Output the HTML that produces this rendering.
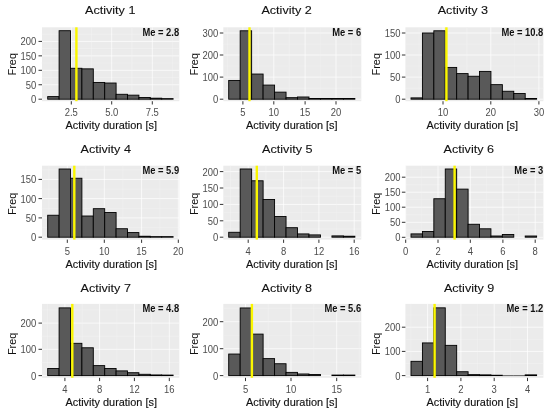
<!DOCTYPE html><html><head><meta charset="utf-8"><title>Activity histograms</title><style>html,body{margin:0;padding:0;background:#fff}body{width:550px;height:417px;overflow:hidden}</style></head><body><svg width="550" height="417" viewBox="0 0 550 417" style="display:block;filter:blur(0.45px);font-family:'Liberation Sans',sans-serif">
<rect width="550" height="417" fill="#fff"/>
<g><rect x="42.00" y="27.30" width="137.30" height="73.90" fill="#ebebeb"/><line x1="41.30" x2="179.30" y1="91.98" y2="91.98" stroke="#f6f6f6" stroke-width="0.4"/><line x1="41.30" x2="179.30" y1="77.53" y2="77.53" stroke="#f6f6f6" stroke-width="0.4"/><line x1="41.30" x2="179.30" y1="63.07" y2="63.07" stroke="#f6f6f6" stroke-width="0.4"/><line x1="41.30" x2="179.30" y1="48.62" y2="48.62" stroke="#f6f6f6" stroke-width="0.4"/><line x1="41.30" x2="179.30" y1="34.17" y2="34.17" stroke="#f6f6f6" stroke-width="0.4"/><line x1="41.30" x2="179.30" y1="99.20" y2="99.20" stroke="#fff" stroke-width="0.7"/><line x1="41.30" x2="179.30" y1="84.75" y2="84.75" stroke="#fff" stroke-width="0.7"/><line x1="41.30" x2="179.30" y1="70.30" y2="70.30" stroke="#fff" stroke-width="0.7"/><line x1="41.30" x2="179.30" y1="55.85" y2="55.85" stroke="#fff" stroke-width="0.7"/><line x1="41.30" x2="179.30" y1="41.40" y2="41.40" stroke="#fff" stroke-width="0.7"/><line y1="27.30" y2="101.20" x1="51.10" x2="51.10" stroke="#f6f6f6" stroke-width="0.4"/><line y1="27.30" y2="101.20" x1="91.50" x2="91.50" stroke="#f6f6f6" stroke-width="0.4"/><line y1="27.30" y2="101.20" x1="131.90" x2="131.90" stroke="#f6f6f6" stroke-width="0.4"/><line y1="27.30" y2="101.20" x1="172.30" x2="172.30" stroke="#f6f6f6" stroke-width="0.4"/><line y1="27.30" y2="101.20" x1="71.30" x2="71.30" stroke="#fff" stroke-width="0.7"/><line y1="27.30" y2="101.20" x1="111.70" x2="111.70" stroke="#fff" stroke-width="0.7"/><line y1="27.30" y2="101.20" x1="152.30" x2="152.30" stroke="#fff" stroke-width="0.7"/><rect x="47.70" y="96.60" width="11.40" height="2.60" fill="#595959" stroke="#000" stroke-width="0.9"/><rect x="59.10" y="30.71" width="11.40" height="68.49" fill="#595959" stroke="#000" stroke-width="0.9"/><rect x="70.50" y="68.28" width="11.40" height="30.92" fill="#595959" stroke="#000" stroke-width="0.9"/><rect x="81.90" y="68.86" width="11.40" height="30.35" fill="#595959" stroke="#000" stroke-width="0.9"/><rect x="93.30" y="82.44" width="11.40" height="16.76" fill="#595959" stroke="#000" stroke-width="0.9"/><rect x="104.70" y="83.02" width="11.40" height="16.18" fill="#595959" stroke="#000" stroke-width="0.9"/><rect x="116.10" y="94.29" width="11.40" height="4.91" fill="#595959" stroke="#000" stroke-width="0.9"/><rect x="127.50" y="95.15" width="11.40" height="4.05" fill="#595959" stroke="#000" stroke-width="0.9"/><rect x="138.90" y="97.47" width="11.40" height="1.73" fill="#595959" stroke="#000" stroke-width="0.9"/><rect x="150.30" y="98.19" width="11.40" height="1.01" fill="#595959" stroke="#000" stroke-width="0.9"/><rect x="161.70" y="98.62" width="11.40" height="0.58" fill="#595959" stroke="#000" stroke-width="0.9"/><rect x="75.20" y="27.30" width="2.4" height="73.90" fill="#fbf700"/><text transform="translate(179.10,35.70) scale(0.9,1)" text-anchor="end" font-size="10.4" font-weight="bold" fill="#111">Me = 2.8</text><line x1="38.50" x2="42.00" y1="99.20" y2="99.20" stroke="#333" stroke-width="1"/><text transform="translate(36.30,103.10) scale(0.9,1)" text-anchor="end" font-size="10.5" fill="#4d4d4d">0</text><line x1="38.50" x2="42.00" y1="84.75" y2="84.75" stroke="#333" stroke-width="1"/><text transform="translate(36.30,88.65) scale(0.9,1)" text-anchor="end" font-size="10.5" fill="#4d4d4d">50</text><line x1="38.50" x2="42.00" y1="70.30" y2="70.30" stroke="#333" stroke-width="1"/><text transform="translate(36.30,74.20) scale(0.9,1)" text-anchor="end" font-size="10.5" fill="#4d4d4d">100</text><line x1="38.50" x2="42.00" y1="55.85" y2="55.85" stroke="#333" stroke-width="1"/><text transform="translate(36.30,59.75) scale(0.9,1)" text-anchor="end" font-size="10.5" fill="#4d4d4d">150</text><line x1="38.50" x2="42.00" y1="41.40" y2="41.40" stroke="#333" stroke-width="1"/><text transform="translate(36.30,45.30) scale(0.9,1)" text-anchor="end" font-size="10.5" fill="#4d4d4d">200</text><line y1="101.20" y2="104.50" x1="71.30" x2="71.30" stroke="#333" stroke-width="1"/><text transform="translate(71.30,116.20) scale(0.9,1)" text-anchor="middle" font-size="10.5" fill="#4d4d4d">2.5</text><line y1="101.20" y2="104.50" x1="111.70" x2="111.70" stroke="#333" stroke-width="1"/><text transform="translate(111.70,116.20) scale(0.9,1)" text-anchor="middle" font-size="10.5" fill="#4d4d4d">5.0</text><line y1="101.20" y2="104.50" x1="152.30" x2="152.30" stroke="#333" stroke-width="1"/><text transform="translate(152.30,116.20) scale(0.9,1)" text-anchor="middle" font-size="10.5" fill="#4d4d4d">7.5</text><text x="111.20" y="129.10" text-anchor="middle" font-size="11.5" fill="#111" stroke="#111" stroke-width="0.15" textLength="91.6" lengthAdjust="spacingAndGlyphs">Activity duration [s]</text><text transform="translate(15.80,64.25) rotate(-90)" text-anchor="middle" font-size="10.9" fill="#111">Freq</text><text x="110.20" y="13.80" text-anchor="middle" font-size="11.6" fill="#111" stroke="#111" stroke-width="0.1" textLength="50.4" lengthAdjust="spacingAndGlyphs">Activity 1</text></g>
<g><rect x="223.30" y="27.30" width="138.00" height="73.90" fill="#ebebeb"/><line x1="223.30" x2="361.30" y1="88.17" y2="88.17" stroke="#f6f6f6" stroke-width="0.4"/><line x1="223.30" x2="361.30" y1="66.10" y2="66.10" stroke="#f6f6f6" stroke-width="0.4"/><line x1="223.30" x2="361.30" y1="44.03" y2="44.03" stroke="#f6f6f6" stroke-width="0.4"/><line x1="223.30" x2="361.30" y1="99.20" y2="99.20" stroke="#fff" stroke-width="0.7"/><line x1="223.30" x2="361.30" y1="77.10" y2="77.10" stroke="#fff" stroke-width="0.7"/><line x1="223.30" x2="361.30" y1="55.00" y2="55.00" stroke="#fff" stroke-width="0.7"/><line x1="223.30" x2="361.30" y1="33.00" y2="33.00" stroke="#fff" stroke-width="0.7"/><line y1="27.30" y2="101.20" x1="227.45" x2="227.45" stroke="#f6f6f6" stroke-width="0.4"/><line y1="27.30" y2="101.20" x1="258.35" x2="258.35" stroke="#f6f6f6" stroke-width="0.4"/><line y1="27.30" y2="101.20" x1="289.25" x2="289.25" stroke="#f6f6f6" stroke-width="0.4"/><line y1="27.30" y2="101.20" x1="320.15" x2="320.15" stroke="#f6f6f6" stroke-width="0.4"/><line y1="27.30" y2="101.20" x1="351.05" x2="351.05" stroke="#f6f6f6" stroke-width="0.4"/><line y1="27.30" y2="101.20" x1="242.90" x2="242.90" stroke="#fff" stroke-width="0.7"/><line y1="27.30" y2="101.20" x1="273.80" x2="273.80" stroke="#fff" stroke-width="0.7"/><line y1="27.30" y2="101.20" x1="305.10" x2="305.10" stroke="#fff" stroke-width="0.7"/><line y1="27.30" y2="101.20" x1="336.00" x2="336.00" stroke="#fff" stroke-width="0.7"/><rect x="228.70" y="80.44" width="11.47" height="18.76" fill="#595959" stroke="#000" stroke-width="0.9"/><rect x="240.17" y="30.79" width="11.47" height="68.41" fill="#595959" stroke="#000" stroke-width="0.9"/><rect x="251.64" y="74.04" width="11.47" height="25.16" fill="#595959" stroke="#000" stroke-width="0.9"/><rect x="263.11" y="85.08" width="11.47" height="14.12" fill="#595959" stroke="#000" stroke-width="0.9"/><rect x="274.58" y="92.14" width="11.47" height="7.06" fill="#595959" stroke="#000" stroke-width="0.9"/><rect x="286.05" y="97.66" width="11.47" height="1.54" fill="#595959" stroke="#000" stroke-width="0.9"/><rect x="297.52" y="96.99" width="11.47" height="2.21" fill="#595959" stroke="#000" stroke-width="0.9"/><rect x="308.99" y="98.54" width="11.47" height="0.66" fill="#595959" stroke="#000" stroke-width="0.9"/><rect x="320.46" y="98.54" width="11.47" height="0.66" fill="#595959" stroke="#000" stroke-width="0.9"/><rect x="331.93" y="98.54" width="11.47" height="0.66" fill="#595959" stroke="#000" stroke-width="0.9"/><rect x="343.40" y="98.54" width="11.47" height="0.66" fill="#595959" stroke="#000" stroke-width="0.9"/><rect x="248.30" y="27.30" width="2.4" height="73.90" fill="#fbf700"/><text transform="translate(361.10,35.70) scale(0.9,1)" text-anchor="end" font-size="10.4" font-weight="bold" fill="#111">Me = 6</text><line x1="219.80" x2="223.30" y1="99.20" y2="99.20" stroke="#333" stroke-width="1"/><text transform="translate(218.30,103.10) scale(0.9,1)" text-anchor="end" font-size="10.5" fill="#4d4d4d">0</text><line x1="219.80" x2="223.30" y1="77.10" y2="77.10" stroke="#333" stroke-width="1"/><text transform="translate(218.30,81.00) scale(0.9,1)" text-anchor="end" font-size="10.5" fill="#4d4d4d">100</text><line x1="219.80" x2="223.30" y1="55.00" y2="55.00" stroke="#333" stroke-width="1"/><text transform="translate(218.30,58.90) scale(0.9,1)" text-anchor="end" font-size="10.5" fill="#4d4d4d">200</text><line x1="219.80" x2="223.30" y1="33.00" y2="33.00" stroke="#333" stroke-width="1"/><text transform="translate(218.30,36.90) scale(0.9,1)" text-anchor="end" font-size="10.5" fill="#4d4d4d">300</text><line y1="101.20" y2="104.50" x1="242.90" x2="242.90" stroke="#333" stroke-width="1"/><text transform="translate(242.90,116.20) scale(0.9,1)" text-anchor="middle" font-size="10.5" fill="#4d4d4d">5</text><line y1="101.20" y2="104.50" x1="273.80" x2="273.80" stroke="#333" stroke-width="1"/><text transform="translate(273.80,116.20) scale(0.9,1)" text-anchor="middle" font-size="10.5" fill="#4d4d4d">10</text><line y1="101.20" y2="104.50" x1="305.10" x2="305.10" stroke="#333" stroke-width="1"/><text transform="translate(305.10,116.20) scale(0.9,1)" text-anchor="middle" font-size="10.5" fill="#4d4d4d">15</text><line y1="101.20" y2="104.50" x1="336.00" x2="336.00" stroke="#333" stroke-width="1"/><text transform="translate(336.00,116.20) scale(0.9,1)" text-anchor="middle" font-size="10.5" fill="#4d4d4d">20</text><text x="291.80" y="129.10" text-anchor="middle" font-size="11.5" fill="#111" stroke="#111" stroke-width="0.15" textLength="91.6" lengthAdjust="spacingAndGlyphs">Activity duration [s]</text><text transform="translate(197.80,64.25) rotate(-90)" text-anchor="middle" font-size="10.9" fill="#111">Freq</text><text x="286.60" y="13.60" text-anchor="middle" font-size="11.6" fill="#111" stroke="#111" stroke-width="0.1" textLength="50.4" lengthAdjust="spacingAndGlyphs">Activity 2</text></g>
<g><rect x="405.40" y="27.30" width="138.00" height="73.90" fill="#ebebeb"/><line x1="405.40" x2="543.40" y1="88.17" y2="88.17" stroke="#f6f6f6" stroke-width="0.4"/><line x1="405.40" x2="543.40" y1="66.10" y2="66.10" stroke="#f6f6f6" stroke-width="0.4"/><line x1="405.40" x2="543.40" y1="44.03" y2="44.03" stroke="#f6f6f6" stroke-width="0.4"/><line x1="405.40" x2="543.40" y1="99.20" y2="99.20" stroke="#fff" stroke-width="0.7"/><line x1="405.40" x2="543.40" y1="77.10" y2="77.10" stroke="#fff" stroke-width="0.7"/><line x1="405.40" x2="543.40" y1="55.00" y2="55.00" stroke="#fff" stroke-width="0.7"/><line x1="405.40" x2="543.40" y1="33.00" y2="33.00" stroke="#fff" stroke-width="0.7"/><line y1="27.30" y2="101.20" x1="419.10" x2="419.10" stroke="#f6f6f6" stroke-width="0.4"/><line y1="27.30" y2="101.20" x1="466.90" x2="466.90" stroke="#f6f6f6" stroke-width="0.4"/><line y1="27.30" y2="101.20" x1="514.70" x2="514.70" stroke="#f6f6f6" stroke-width="0.4"/><line y1="27.30" y2="101.20" x1="443.00" x2="443.00" stroke="#fff" stroke-width="0.7"/><line y1="27.30" y2="101.20" x1="490.80" x2="490.80" stroke="#fff" stroke-width="0.7"/><line y1="27.30" y2="101.20" x1="538.90" x2="538.90" stroke="#fff" stroke-width="0.7"/><rect x="411.00" y="97.88" width="11.42" height="1.32" fill="#595959" stroke="#000" stroke-width="0.9"/><rect x="422.42" y="33.00" width="11.42" height="66.20" fill="#595959" stroke="#000" stroke-width="0.9"/><rect x="433.84" y="30.79" width="11.42" height="68.41" fill="#595959" stroke="#000" stroke-width="0.9"/><rect x="445.26" y="67.42" width="11.42" height="31.78" fill="#595959" stroke="#000" stroke-width="0.9"/><rect x="456.68" y="73.60" width="11.42" height="25.60" fill="#595959" stroke="#000" stroke-width="0.9"/><rect x="468.10" y="76.25" width="11.42" height="22.95" fill="#595959" stroke="#000" stroke-width="0.9"/><rect x="479.52" y="71.40" width="11.42" height="27.80" fill="#595959" stroke="#000" stroke-width="0.9"/><rect x="490.94" y="84.64" width="11.42" height="14.56" fill="#595959" stroke="#000" stroke-width="0.9"/><rect x="502.36" y="91.26" width="11.42" height="7.94" fill="#595959" stroke="#000" stroke-width="0.9"/><rect x="513.78" y="93.46" width="11.42" height="5.74" fill="#595959" stroke="#000" stroke-width="0.9"/><rect x="525.20" y="98.54" width="11.42" height="0.66" fill="#595959" stroke="#000" stroke-width="0.9"/><rect x="445.20" y="27.30" width="2.4" height="73.90" fill="#fbf700"/><text transform="translate(543.20,35.70) scale(0.9,1)" text-anchor="end" font-size="10.4" font-weight="bold" fill="#111">Me = 10.8</text><line x1="401.90" x2="405.40" y1="99.20" y2="99.20" stroke="#333" stroke-width="1"/><text transform="translate(400.40,103.10) scale(0.9,1)" text-anchor="end" font-size="10.5" fill="#4d4d4d">0</text><line x1="401.90" x2="405.40" y1="77.10" y2="77.10" stroke="#333" stroke-width="1"/><text transform="translate(400.40,81.00) scale(0.9,1)" text-anchor="end" font-size="10.5" fill="#4d4d4d">50</text><line x1="401.90" x2="405.40" y1="55.00" y2="55.00" stroke="#333" stroke-width="1"/><text transform="translate(400.40,58.90) scale(0.9,1)" text-anchor="end" font-size="10.5" fill="#4d4d4d">100</text><line x1="401.90" x2="405.40" y1="33.00" y2="33.00" stroke="#333" stroke-width="1"/><text transform="translate(400.40,36.90) scale(0.9,1)" text-anchor="end" font-size="10.5" fill="#4d4d4d">150</text><line y1="101.20" y2="104.50" x1="443.00" x2="443.00" stroke="#333" stroke-width="1"/><text transform="translate(443.00,116.20) scale(0.9,1)" text-anchor="middle" font-size="10.5" fill="#4d4d4d">10</text><line y1="101.20" y2="104.50" x1="490.80" x2="490.80" stroke="#333" stroke-width="1"/><text transform="translate(490.80,116.20) scale(0.9,1)" text-anchor="middle" font-size="10.5" fill="#4d4d4d">20</text><line y1="101.20" y2="104.50" x1="538.90" x2="538.90" stroke="#333" stroke-width="1"/><text transform="translate(538.90,116.20) scale(0.9,1)" text-anchor="middle" font-size="10.5" fill="#4d4d4d">30</text><text x="472.30" y="129.10" text-anchor="middle" font-size="11.5" fill="#111" stroke="#111" stroke-width="0.15" textLength="91.6" lengthAdjust="spacingAndGlyphs">Activity duration [s]</text><text transform="translate(379.90,64.25) rotate(-90)" text-anchor="middle" font-size="10.9" fill="#111">Freq</text><text x="462.90" y="13.60" text-anchor="middle" font-size="11.6" fill="#111" stroke="#111" stroke-width="0.1" textLength="50.4" lengthAdjust="spacingAndGlyphs">Activity 3</text></g>
<g><rect x="42.00" y="165.70" width="137.30" height="73.90" fill="#ebebeb"/><line x1="41.30" x2="179.30" y1="227.57" y2="227.57" stroke="#f6f6f6" stroke-width="0.4"/><line x1="41.30" x2="179.30" y1="208.30" y2="208.30" stroke="#f6f6f6" stroke-width="0.4"/><line x1="41.30" x2="179.30" y1="189.03" y2="189.03" stroke="#f6f6f6" stroke-width="0.4"/><line x1="41.30" x2="179.30" y1="169.77" y2="169.77" stroke="#f6f6f6" stroke-width="0.4"/><line x1="41.30" x2="179.30" y1="237.20" y2="237.20" stroke="#fff" stroke-width="0.7"/><line x1="41.30" x2="179.30" y1="217.90" y2="217.90" stroke="#fff" stroke-width="0.7"/><line x1="41.30" x2="179.30" y1="198.60" y2="198.60" stroke="#fff" stroke-width="0.7"/><line x1="41.30" x2="179.30" y1="179.40" y2="179.40" stroke="#fff" stroke-width="0.7"/><line y1="165.70" y2="239.60" x1="48.80" x2="48.80" stroke="#f6f6f6" stroke-width="0.4"/><line y1="165.70" y2="239.60" x1="85.80" x2="85.80" stroke="#f6f6f6" stroke-width="0.4"/><line y1="165.70" y2="239.60" x1="122.80" x2="122.80" stroke="#f6f6f6" stroke-width="0.4"/><line y1="165.70" y2="239.60" x1="159.80" x2="159.80" stroke="#f6f6f6" stroke-width="0.4"/><line y1="165.70" y2="239.60" x1="67.30" x2="67.30" stroke="#fff" stroke-width="0.7"/><line y1="165.70" y2="239.60" x1="104.30" x2="104.30" stroke="#fff" stroke-width="0.7"/><line y1="165.70" y2="239.60" x1="141.60" x2="141.60" stroke="#fff" stroke-width="0.7"/><line y1="165.70" y2="239.60" x1="178.30" x2="178.30" stroke="#fff" stroke-width="0.7"/><rect x="47.70" y="215.24" width="11.40" height="21.96" fill="#595959" stroke="#000" stroke-width="0.9"/><rect x="59.10" y="169.00" width="11.40" height="68.20" fill="#595959" stroke="#000" stroke-width="0.9"/><rect x="70.50" y="178.24" width="11.40" height="58.96" fill="#595959" stroke="#000" stroke-width="0.9"/><rect x="81.90" y="216.01" width="11.40" height="21.19" fill="#595959" stroke="#000" stroke-width="0.9"/><rect x="93.30" y="208.69" width="11.40" height="28.51" fill="#595959" stroke="#000" stroke-width="0.9"/><rect x="104.70" y="212.54" width="11.40" height="24.66" fill="#595959" stroke="#000" stroke-width="0.9"/><rect x="116.10" y="228.72" width="11.40" height="8.48" fill="#595959" stroke="#000" stroke-width="0.9"/><rect x="127.50" y="232.58" width="11.40" height="4.62" fill="#595959" stroke="#000" stroke-width="0.9"/><rect x="138.90" y="236.24" width="11.40" height="0.96" fill="#595959" stroke="#000" stroke-width="0.9"/><rect x="150.30" y="236.62" width="11.40" height="0.58" fill="#595959" stroke="#000" stroke-width="0.9"/><rect x="161.70" y="236.62" width="11.40" height="0.58" fill="#595959" stroke="#000" stroke-width="0.9"/><rect x="73.10" y="165.70" width="2.4" height="73.90" fill="#fbf700"/><text transform="translate(179.10,174.10) scale(0.9,1)" text-anchor="end" font-size="10.4" font-weight="bold" fill="#111">Me = 5.9</text><line x1="38.50" x2="42.00" y1="237.20" y2="237.20" stroke="#333" stroke-width="1"/><text transform="translate(36.30,241.10) scale(0.9,1)" text-anchor="end" font-size="10.5" fill="#4d4d4d">0</text><line x1="38.50" x2="42.00" y1="217.90" y2="217.90" stroke="#333" stroke-width="1"/><text transform="translate(36.30,221.80) scale(0.9,1)" text-anchor="end" font-size="10.5" fill="#4d4d4d">50</text><line x1="38.50" x2="42.00" y1="198.60" y2="198.60" stroke="#333" stroke-width="1"/><text transform="translate(36.30,202.50) scale(0.9,1)" text-anchor="end" font-size="10.5" fill="#4d4d4d">100</text><line x1="38.50" x2="42.00" y1="179.40" y2="179.40" stroke="#333" stroke-width="1"/><text transform="translate(36.30,183.30) scale(0.9,1)" text-anchor="end" font-size="10.5" fill="#4d4d4d">150</text><line y1="239.60" y2="242.90" x1="67.30" x2="67.30" stroke="#333" stroke-width="1"/><text transform="translate(67.30,254.60) scale(0.9,1)" text-anchor="middle" font-size="10.5" fill="#4d4d4d">5</text><line y1="239.60" y2="242.90" x1="104.30" x2="104.30" stroke="#333" stroke-width="1"/><text transform="translate(104.30,254.60) scale(0.9,1)" text-anchor="middle" font-size="10.5" fill="#4d4d4d">10</text><line y1="239.60" y2="242.90" x1="141.60" x2="141.60" stroke="#333" stroke-width="1"/><text transform="translate(141.60,254.60) scale(0.9,1)" text-anchor="middle" font-size="10.5" fill="#4d4d4d">15</text><line y1="239.60" y2="242.90" x1="178.30" x2="178.30" stroke="#333" stroke-width="1"/><text transform="translate(178.30,254.60) scale(0.9,1)" text-anchor="middle" font-size="10.5" fill="#4d4d4d">20</text><text x="111.20" y="267.50" text-anchor="middle" font-size="11.5" fill="#111" stroke="#111" stroke-width="0.15" textLength="91.6" lengthAdjust="spacingAndGlyphs">Activity duration [s]</text><text transform="translate(15.80,203.85) rotate(-90)" text-anchor="middle" font-size="10.9" fill="#111">Freq</text><text x="105.70" y="153.20" text-anchor="middle" font-size="11.6" fill="#111" stroke="#111" stroke-width="0.1" textLength="50.4" lengthAdjust="spacingAndGlyphs">Activity 4</text></g>
<g><rect x="223.30" y="165.70" width="138.00" height="73.90" fill="#ebebeb"/><line x1="223.30" x2="361.30" y1="229.00" y2="229.00" stroke="#f6f6f6" stroke-width="0.4"/><line x1="223.30" x2="361.30" y1="212.60" y2="212.60" stroke="#f6f6f6" stroke-width="0.4"/><line x1="223.30" x2="361.30" y1="196.20" y2="196.20" stroke="#f6f6f6" stroke-width="0.4"/><line x1="223.30" x2="361.30" y1="179.80" y2="179.80" stroke="#f6f6f6" stroke-width="0.4"/><line x1="223.30" x2="361.30" y1="237.20" y2="237.20" stroke="#fff" stroke-width="0.7"/><line x1="223.30" x2="361.30" y1="220.80" y2="220.80" stroke="#fff" stroke-width="0.7"/><line x1="223.30" x2="361.30" y1="204.40" y2="204.40" stroke="#fff" stroke-width="0.7"/><line x1="223.30" x2="361.30" y1="188.00" y2="188.00" stroke="#fff" stroke-width="0.7"/><line x1="223.30" x2="361.30" y1="171.60" y2="171.60" stroke="#fff" stroke-width="0.7"/><line y1="165.70" y2="239.60" x1="230.50" x2="230.50" stroke="#f6f6f6" stroke-width="0.4"/><line y1="165.70" y2="239.60" x1="265.90" x2="265.90" stroke="#f6f6f6" stroke-width="0.4"/><line y1="165.70" y2="239.60" x1="301.30" x2="301.30" stroke="#f6f6f6" stroke-width="0.4"/><line y1="165.70" y2="239.60" x1="336.70" x2="336.70" stroke="#f6f6f6" stroke-width="0.4"/><line y1="165.70" y2="239.60" x1="248.20" x2="248.20" stroke="#fff" stroke-width="0.7"/><line y1="165.70" y2="239.60" x1="283.60" x2="283.60" stroke="#fff" stroke-width="0.7"/><line y1="165.70" y2="239.60" x1="318.90" x2="318.90" stroke="#fff" stroke-width="0.7"/><line y1="165.70" y2="239.60" x1="354.20" x2="354.20" stroke="#fff" stroke-width="0.7"/><rect x="228.70" y="232.28" width="11.47" height="4.92" fill="#595959" stroke="#000" stroke-width="0.9"/><rect x="240.17" y="168.98" width="11.47" height="68.22" fill="#595959" stroke="#000" stroke-width="0.9"/><rect x="251.64" y="180.78" width="11.47" height="56.42" fill="#595959" stroke="#000" stroke-width="0.9"/><rect x="263.11" y="199.48" width="11.47" height="37.72" fill="#595959" stroke="#000" stroke-width="0.9"/><rect x="274.58" y="216.54" width="11.47" height="20.66" fill="#595959" stroke="#000" stroke-width="0.9"/><rect x="286.05" y="227.69" width="11.47" height="9.51" fill="#595959" stroke="#000" stroke-width="0.9"/><rect x="297.52" y="233.92" width="11.47" height="3.28" fill="#595959" stroke="#000" stroke-width="0.9"/><rect x="308.99" y="234.90" width="11.47" height="2.30" fill="#595959" stroke="#000" stroke-width="0.9"/><rect x="331.93" y="235.89" width="11.47" height="1.31" fill="#595959" stroke="#000" stroke-width="0.9"/><rect x="343.40" y="236.22" width="11.47" height="0.98" fill="#595959" stroke="#000" stroke-width="0.9"/><rect x="255.60" y="165.70" width="2.4" height="73.90" fill="#fbf700"/><text transform="translate(361.10,174.10) scale(0.9,1)" text-anchor="end" font-size="10.4" font-weight="bold" fill="#111">Me = 5</text><line x1="219.80" x2="223.30" y1="237.20" y2="237.20" stroke="#333" stroke-width="1"/><text transform="translate(218.30,241.10) scale(0.9,1)" text-anchor="end" font-size="10.5" fill="#4d4d4d">0</text><line x1="219.80" x2="223.30" y1="220.80" y2="220.80" stroke="#333" stroke-width="1"/><text transform="translate(218.30,224.70) scale(0.9,1)" text-anchor="end" font-size="10.5" fill="#4d4d4d">50</text><line x1="219.80" x2="223.30" y1="204.40" y2="204.40" stroke="#333" stroke-width="1"/><text transform="translate(218.30,208.30) scale(0.9,1)" text-anchor="end" font-size="10.5" fill="#4d4d4d">100</text><line x1="219.80" x2="223.30" y1="188.00" y2="188.00" stroke="#333" stroke-width="1"/><text transform="translate(218.30,191.90) scale(0.9,1)" text-anchor="end" font-size="10.5" fill="#4d4d4d">150</text><line x1="219.80" x2="223.30" y1="171.60" y2="171.60" stroke="#333" stroke-width="1"/><text transform="translate(218.30,175.50) scale(0.9,1)" text-anchor="end" font-size="10.5" fill="#4d4d4d">200</text><line y1="239.60" y2="242.90" x1="248.20" x2="248.20" stroke="#333" stroke-width="1"/><text transform="translate(248.20,254.60) scale(0.9,1)" text-anchor="middle" font-size="10.5" fill="#4d4d4d">4</text><line y1="239.60" y2="242.90" x1="283.60" x2="283.60" stroke="#333" stroke-width="1"/><text transform="translate(283.60,254.60) scale(0.9,1)" text-anchor="middle" font-size="10.5" fill="#4d4d4d">8</text><line y1="239.60" y2="242.90" x1="318.90" x2="318.90" stroke="#333" stroke-width="1"/><text transform="translate(318.90,254.60) scale(0.9,1)" text-anchor="middle" font-size="10.5" fill="#4d4d4d">12</text><line y1="239.60" y2="242.90" x1="354.20" x2="354.20" stroke="#333" stroke-width="1"/><text transform="translate(354.20,254.60) scale(0.9,1)" text-anchor="middle" font-size="10.5" fill="#4d4d4d">16</text><text x="291.80" y="267.50" text-anchor="middle" font-size="11.5" fill="#111" stroke="#111" stroke-width="0.15" textLength="91.6" lengthAdjust="spacingAndGlyphs">Activity duration [s]</text><text transform="translate(197.80,203.85) rotate(-90)" text-anchor="middle" font-size="10.9" fill="#111">Freq</text><text x="287.30" y="153.20" text-anchor="middle" font-size="11.6" fill="#111" stroke="#111" stroke-width="0.1" textLength="50.4" lengthAdjust="spacingAndGlyphs">Activity 5</text></g>
<g><rect x="405.40" y="165.70" width="138.00" height="73.90" fill="#ebebeb"/><line x1="405.40" x2="543.40" y1="229.79" y2="229.79" stroke="#f6f6f6" stroke-width="0.4"/><line x1="405.40" x2="543.40" y1="214.76" y2="214.76" stroke="#f6f6f6" stroke-width="0.4"/><line x1="405.40" x2="543.40" y1="199.74" y2="199.74" stroke="#f6f6f6" stroke-width="0.4"/><line x1="405.40" x2="543.40" y1="184.71" y2="184.71" stroke="#f6f6f6" stroke-width="0.4"/><line x1="405.40" x2="543.40" y1="169.69" y2="169.69" stroke="#f6f6f6" stroke-width="0.4"/><line x1="405.40" x2="543.40" y1="237.30" y2="237.30" stroke="#fff" stroke-width="0.7"/><line x1="405.40" x2="543.40" y1="222.30" y2="222.30" stroke="#fff" stroke-width="0.7"/><line x1="405.40" x2="543.40" y1="207.20" y2="207.20" stroke="#fff" stroke-width="0.7"/><line x1="405.40" x2="543.40" y1="192.20" y2="192.20" stroke="#fff" stroke-width="0.7"/><line x1="405.40" x2="543.40" y1="177.20" y2="177.20" stroke="#fff" stroke-width="0.7"/><line y1="165.70" y2="239.60" x1="421.85" x2="421.85" stroke="#f6f6f6" stroke-width="0.4"/><line y1="165.70" y2="239.60" x1="454.15" x2="454.15" stroke="#f6f6f6" stroke-width="0.4"/><line y1="165.70" y2="239.60" x1="486.45" x2="486.45" stroke="#f6f6f6" stroke-width="0.4"/><line y1="165.70" y2="239.60" x1="518.75" x2="518.75" stroke="#f6f6f6" stroke-width="0.4"/><line y1="165.70" y2="239.60" x1="405.70" x2="405.70" stroke="#fff" stroke-width="0.7"/><line y1="165.70" y2="239.60" x1="438.00" x2="438.00" stroke="#fff" stroke-width="0.7"/><line y1="165.70" y2="239.60" x1="470.30" x2="470.30" stroke="#fff" stroke-width="0.7"/><line y1="165.70" y2="239.60" x1="502.90" x2="502.90" stroke="#fff" stroke-width="0.7"/><line y1="165.70" y2="239.60" x1="535.20" x2="535.20" stroke="#fff" stroke-width="0.7"/><rect x="411.00" y="233.89" width="11.42" height="3.31" fill="#595959" stroke="#000" stroke-width="0.9"/><rect x="422.42" y="231.49" width="11.42" height="5.71" fill="#595959" stroke="#000" stroke-width="0.9"/><rect x="433.84" y="198.74" width="11.42" height="38.46" fill="#595959" stroke="#000" stroke-width="0.9"/><rect x="445.26" y="168.99" width="11.42" height="68.21" fill="#595959" stroke="#000" stroke-width="0.9"/><rect x="456.68" y="189.12" width="11.42" height="48.08" fill="#595959" stroke="#000" stroke-width="0.9"/><rect x="468.10" y="224.28" width="11.42" height="12.92" fill="#595959" stroke="#000" stroke-width="0.9"/><rect x="479.52" y="228.79" width="11.42" height="8.41" fill="#595959" stroke="#000" stroke-width="0.9"/><rect x="490.94" y="236.00" width="11.42" height="1.20" fill="#595959" stroke="#000" stroke-width="0.9"/><rect x="502.36" y="234.50" width="11.42" height="2.70" fill="#595959" stroke="#000" stroke-width="0.9"/><rect x="525.20" y="236.00" width="11.42" height="1.20" fill="#595959" stroke="#000" stroke-width="0.9"/><rect x="453.40" y="165.70" width="2.4" height="73.90" fill="#fbf700"/><text transform="translate(543.20,174.10) scale(0.9,1)" text-anchor="end" font-size="10.4" font-weight="bold" fill="#111">Me = 3</text><line x1="401.90" x2="405.40" y1="237.30" y2="237.30" stroke="#333" stroke-width="1"/><text transform="translate(400.40,241.20) scale(0.9,1)" text-anchor="end" font-size="10.5" fill="#4d4d4d">0</text><line x1="401.90" x2="405.40" y1="222.30" y2="222.30" stroke="#333" stroke-width="1"/><text transform="translate(400.40,226.20) scale(0.9,1)" text-anchor="end" font-size="10.5" fill="#4d4d4d">50</text><line x1="401.90" x2="405.40" y1="207.20" y2="207.20" stroke="#333" stroke-width="1"/><text transform="translate(400.40,211.10) scale(0.9,1)" text-anchor="end" font-size="10.5" fill="#4d4d4d">100</text><line x1="401.90" x2="405.40" y1="192.20" y2="192.20" stroke="#333" stroke-width="1"/><text transform="translate(400.40,196.10) scale(0.9,1)" text-anchor="end" font-size="10.5" fill="#4d4d4d">150</text><line x1="401.90" x2="405.40" y1="177.20" y2="177.20" stroke="#333" stroke-width="1"/><text transform="translate(400.40,181.10) scale(0.9,1)" text-anchor="end" font-size="10.5" fill="#4d4d4d">200</text><line y1="239.60" y2="242.90" x1="405.70" x2="405.70" stroke="#333" stroke-width="1"/><text transform="translate(405.70,254.60) scale(0.9,1)" text-anchor="middle" font-size="10.5" fill="#4d4d4d">0</text><line y1="239.60" y2="242.90" x1="438.00" x2="438.00" stroke="#333" stroke-width="1"/><text transform="translate(438.00,254.60) scale(0.9,1)" text-anchor="middle" font-size="10.5" fill="#4d4d4d">2</text><line y1="239.60" y2="242.90" x1="470.30" x2="470.30" stroke="#333" stroke-width="1"/><text transform="translate(470.30,254.60) scale(0.9,1)" text-anchor="middle" font-size="10.5" fill="#4d4d4d">4</text><line y1="239.60" y2="242.90" x1="502.90" x2="502.90" stroke="#333" stroke-width="1"/><text transform="translate(502.90,254.60) scale(0.9,1)" text-anchor="middle" font-size="10.5" fill="#4d4d4d">6</text><line y1="239.60" y2="242.90" x1="535.20" x2="535.20" stroke="#333" stroke-width="1"/><text transform="translate(535.20,254.60) scale(0.9,1)" text-anchor="middle" font-size="10.5" fill="#4d4d4d">8</text><text x="472.30" y="267.50" text-anchor="middle" font-size="11.5" fill="#111" stroke="#111" stroke-width="0.15" textLength="91.6" lengthAdjust="spacingAndGlyphs">Activity duration [s]</text><text transform="translate(379.90,203.85) rotate(-90)" text-anchor="middle" font-size="10.9" fill="#111">Freq</text><text x="468.80" y="153.20" text-anchor="middle" font-size="11.6" fill="#111" stroke="#111" stroke-width="0.1" textLength="50.4" lengthAdjust="spacingAndGlyphs">Activity 6</text></g>
<g><rect x="42.00" y="303.90" width="137.30" height="73.90" fill="#ebebeb"/><line x1="41.30" x2="179.30" y1="362.48" y2="362.48" stroke="#f6f6f6" stroke-width="0.4"/><line x1="41.30" x2="179.30" y1="336.23" y2="336.23" stroke="#f6f6f6" stroke-width="0.4"/><line x1="41.30" x2="179.30" y1="309.98" y2="309.98" stroke="#f6f6f6" stroke-width="0.4"/><line x1="41.30" x2="179.30" y1="375.60" y2="375.60" stroke="#fff" stroke-width="0.7"/><line x1="41.30" x2="179.30" y1="349.30" y2="349.30" stroke="#fff" stroke-width="0.7"/><line x1="41.30" x2="179.30" y1="323.10" y2="323.10" stroke="#fff" stroke-width="0.7"/><line y1="303.90" y2="377.80" x1="47.55" x2="47.55" stroke="#f6f6f6" stroke-width="0.4"/><line y1="303.90" y2="377.80" x1="82.25" x2="82.25" stroke="#f6f6f6" stroke-width="0.4"/><line y1="303.90" y2="377.80" x1="116.95" x2="116.95" stroke="#f6f6f6" stroke-width="0.4"/><line y1="303.90" y2="377.80" x1="151.65" x2="151.65" stroke="#f6f6f6" stroke-width="0.4"/><line y1="303.90" y2="377.80" x1="64.90" x2="64.90" stroke="#fff" stroke-width="0.7"/><line y1="303.90" y2="377.80" x1="99.60" x2="99.60" stroke="#fff" stroke-width="0.7"/><line y1="303.90" y2="377.80" x1="134.40" x2="134.40" stroke="#fff" stroke-width="0.7"/><line y1="303.90" y2="377.80" x1="169.30" x2="169.30" stroke="#fff" stroke-width="0.7"/><rect x="47.70" y="368.51" width="11.40" height="7.09" fill="#595959" stroke="#000" stroke-width="0.9"/><rect x="59.10" y="307.88" width="11.40" height="67.73" fill="#595959" stroke="#000" stroke-width="0.9"/><rect x="70.50" y="343.31" width="11.40" height="32.29" fill="#595959" stroke="#000" stroke-width="0.9"/><rect x="81.90" y="347.78" width="11.40" height="27.83" fill="#595959" stroke="#000" stroke-width="0.9"/><rect x="93.30" y="365.62" width="11.40" height="9.97" fill="#595959" stroke="#000" stroke-width="0.9"/><rect x="104.70" y="368.51" width="11.40" height="7.09" fill="#595959" stroke="#000" stroke-width="0.9"/><rect x="116.10" y="370.88" width="11.40" height="4.73" fill="#595959" stroke="#000" stroke-width="0.9"/><rect x="127.50" y="372.71" width="11.40" height="2.89" fill="#595959" stroke="#000" stroke-width="0.9"/><rect x="138.90" y="374.29" width="11.40" height="1.31" fill="#595959" stroke="#000" stroke-width="0.9"/><rect x="150.30" y="374.94" width="11.40" height="0.66" fill="#595959" stroke="#000" stroke-width="0.9"/><rect x="161.70" y="375.08" width="11.40" height="0.53" fill="#595959" stroke="#000" stroke-width="0.9"/><rect x="71.10" y="303.90" width="2.4" height="73.90" fill="#fbf700"/><text transform="translate(179.10,312.30) scale(0.9,1)" text-anchor="end" font-size="10.4" font-weight="bold" fill="#111">Me = 4.8</text><line x1="38.50" x2="42.00" y1="375.60" y2="375.60" stroke="#333" stroke-width="1"/><text transform="translate(36.30,379.50) scale(0.9,1)" text-anchor="end" font-size="10.5" fill="#4d4d4d">0</text><line x1="38.50" x2="42.00" y1="349.30" y2="349.30" stroke="#333" stroke-width="1"/><text transform="translate(36.30,353.20) scale(0.9,1)" text-anchor="end" font-size="10.5" fill="#4d4d4d">100</text><line x1="38.50" x2="42.00" y1="323.10" y2="323.10" stroke="#333" stroke-width="1"/><text transform="translate(36.30,327.00) scale(0.9,1)" text-anchor="end" font-size="10.5" fill="#4d4d4d">200</text><line y1="377.80" y2="381.10" x1="64.90" x2="64.90" stroke="#333" stroke-width="1"/><text transform="translate(64.90,392.80) scale(0.9,1)" text-anchor="middle" font-size="10.5" fill="#4d4d4d">4</text><line y1="377.80" y2="381.10" x1="99.60" x2="99.60" stroke="#333" stroke-width="1"/><text transform="translate(99.60,392.80) scale(0.9,1)" text-anchor="middle" font-size="10.5" fill="#4d4d4d">8</text><line y1="377.80" y2="381.10" x1="134.40" x2="134.40" stroke="#333" stroke-width="1"/><text transform="translate(134.40,392.80) scale(0.9,1)" text-anchor="middle" font-size="10.5" fill="#4d4d4d">12</text><line y1="377.80" y2="381.10" x1="169.30" x2="169.30" stroke="#333" stroke-width="1"/><text transform="translate(169.30,392.80) scale(0.9,1)" text-anchor="middle" font-size="10.5" fill="#4d4d4d">16</text><text x="111.20" y="406.30" text-anchor="middle" font-size="11.5" fill="#111" stroke="#111" stroke-width="0.15" textLength="91.6" lengthAdjust="spacingAndGlyphs">Activity duration [s]</text><text transform="translate(15.80,343.85) rotate(-90)" text-anchor="middle" font-size="10.9" fill="#111">Freq</text><text x="105.70" y="291.70" text-anchor="middle" font-size="11.6" fill="#111" stroke="#111" stroke-width="0.1" textLength="50.4" lengthAdjust="spacingAndGlyphs">Activity 7</text></g>
<g><rect x="223.30" y="303.90" width="138.00" height="73.90" fill="#ebebeb"/><line x1="223.30" x2="361.30" y1="362.12" y2="362.12" stroke="#f6f6f6" stroke-width="0.4"/><line x1="223.30" x2="361.30" y1="335.18" y2="335.18" stroke="#f6f6f6" stroke-width="0.4"/><line x1="223.30" x2="361.30" y1="308.22" y2="308.22" stroke="#f6f6f6" stroke-width="0.4"/><line x1="223.30" x2="361.30" y1="375.60" y2="375.60" stroke="#fff" stroke-width="0.7"/><line x1="223.30" x2="361.30" y1="348.70" y2="348.70" stroke="#fff" stroke-width="0.7"/><line x1="223.30" x2="361.30" y1="321.70" y2="321.70" stroke="#fff" stroke-width="0.7"/><line y1="303.90" y2="377.80" x1="268.25" x2="268.25" stroke="#f6f6f6" stroke-width="0.4"/><line y1="303.90" y2="377.80" x1="313.75" x2="313.75" stroke="#f6f6f6" stroke-width="0.4"/><line y1="303.90" y2="377.80" x1="359.25" x2="359.25" stroke="#f6f6f6" stroke-width="0.4"/><line y1="303.90" y2="377.80" x1="245.50" x2="245.50" stroke="#fff" stroke-width="0.7"/><line y1="303.90" y2="377.80" x1="291.00" x2="291.00" stroke="#fff" stroke-width="0.7"/><line y1="303.90" y2="377.80" x1="336.70" x2="336.70" stroke="#fff" stroke-width="0.7"/><rect x="228.70" y="354.04" width="11.47" height="21.56" fill="#595959" stroke="#000" stroke-width="0.9"/><rect x="240.17" y="307.96" width="11.47" height="67.64" fill="#595959" stroke="#000" stroke-width="0.9"/><rect x="251.64" y="334.10" width="11.47" height="41.50" fill="#595959" stroke="#000" stroke-width="0.9"/><rect x="263.11" y="358.62" width="11.47" height="16.98" fill="#595959" stroke="#000" stroke-width="0.9"/><rect x="274.58" y="363.74" width="11.47" height="11.86" fill="#595959" stroke="#000" stroke-width="0.9"/><rect x="286.05" y="372.37" width="11.47" height="3.23" fill="#595959" stroke="#000" stroke-width="0.9"/><rect x="297.52" y="373.98" width="11.47" height="1.62" fill="#595959" stroke="#000" stroke-width="0.9"/><rect x="308.99" y="374.52" width="11.47" height="1.08" fill="#595959" stroke="#000" stroke-width="0.9"/><rect x="331.93" y="375.06" width="11.47" height="0.54" fill="#595959" stroke="#000" stroke-width="0.9"/><rect x="343.40" y="375.06" width="11.47" height="0.54" fill="#595959" stroke="#000" stroke-width="0.9"/><rect x="250.70" y="303.90" width="2.4" height="73.90" fill="#fbf700"/><text transform="translate(361.10,312.30) scale(0.9,1)" text-anchor="end" font-size="10.4" font-weight="bold" fill="#111">Me = 5.6</text><line x1="219.80" x2="223.30" y1="375.60" y2="375.60" stroke="#333" stroke-width="1"/><text transform="translate(218.30,379.50) scale(0.9,1)" text-anchor="end" font-size="10.5" fill="#4d4d4d">0</text><line x1="219.80" x2="223.30" y1="348.70" y2="348.70" stroke="#333" stroke-width="1"/><text transform="translate(218.30,352.60) scale(0.9,1)" text-anchor="end" font-size="10.5" fill="#4d4d4d">100</text><line x1="219.80" x2="223.30" y1="321.70" y2="321.70" stroke="#333" stroke-width="1"/><text transform="translate(218.30,325.60) scale(0.9,1)" text-anchor="end" font-size="10.5" fill="#4d4d4d">200</text><line y1="377.80" y2="381.10" x1="245.50" x2="245.50" stroke="#333" stroke-width="1"/><text transform="translate(245.50,392.80) scale(0.9,1)" text-anchor="middle" font-size="10.5" fill="#4d4d4d">5</text><line y1="377.80" y2="381.10" x1="291.00" x2="291.00" stroke="#333" stroke-width="1"/><text transform="translate(291.00,392.80) scale(0.9,1)" text-anchor="middle" font-size="10.5" fill="#4d4d4d">10</text><line y1="377.80" y2="381.10" x1="336.70" x2="336.70" stroke="#333" stroke-width="1"/><text transform="translate(336.70,392.80) scale(0.9,1)" text-anchor="middle" font-size="10.5" fill="#4d4d4d">15</text><text x="291.80" y="406.30" text-anchor="middle" font-size="11.5" fill="#111" stroke="#111" stroke-width="0.15" textLength="91.6" lengthAdjust="spacingAndGlyphs">Activity duration [s]</text><text transform="translate(197.80,343.85) rotate(-90)" text-anchor="middle" font-size="10.9" fill="#111">Freq</text><text x="286.80" y="291.70" text-anchor="middle" font-size="11.6" fill="#111" stroke="#111" stroke-width="0.1" textLength="50.4" lengthAdjust="spacingAndGlyphs">Activity 8</text></g>
<g><rect x="405.40" y="303.90" width="138.00" height="73.90" fill="#ebebeb"/><line x1="405.40" x2="543.40" y1="363.50" y2="363.50" stroke="#f6f6f6" stroke-width="0.4"/><line x1="405.40" x2="543.40" y1="339.30" y2="339.30" stroke="#f6f6f6" stroke-width="0.4"/><line x1="405.40" x2="543.40" y1="315.10" y2="315.10" stroke="#f6f6f6" stroke-width="0.4"/><line x1="405.40" x2="543.40" y1="375.60" y2="375.60" stroke="#fff" stroke-width="0.7"/><line x1="405.40" x2="543.40" y1="351.40" y2="351.40" stroke="#fff" stroke-width="0.7"/><line x1="405.40" x2="543.40" y1="327.20" y2="327.20" stroke="#fff" stroke-width="0.7"/><line y1="303.90" y2="377.80" x1="410.95" x2="410.95" stroke="#f6f6f6" stroke-width="0.4"/><line y1="303.90" y2="377.80" x1="444.25" x2="444.25" stroke="#f6f6f6" stroke-width="0.4"/><line y1="303.90" y2="377.80" x1="477.55" x2="477.55" stroke="#f6f6f6" stroke-width="0.4"/><line y1="303.90" y2="377.80" x1="510.85" x2="510.85" stroke="#f6f6f6" stroke-width="0.4"/><line y1="303.90" y2="377.80" x1="427.60" x2="427.60" stroke="#fff" stroke-width="0.7"/><line y1="303.90" y2="377.80" x1="460.90" x2="460.90" stroke="#fff" stroke-width="0.7"/><line y1="303.90" y2="377.80" x1="494.20" x2="494.20" stroke="#fff" stroke-width="0.7"/><line y1="303.90" y2="377.80" x1="527.50" x2="527.50" stroke="#fff" stroke-width="0.7"/><rect x="411.00" y="361.32" width="11.42" height="14.28" fill="#595959" stroke="#000" stroke-width="0.9"/><rect x="422.42" y="342.93" width="11.42" height="32.67" fill="#595959" stroke="#000" stroke-width="0.9"/><rect x="433.84" y="307.84" width="11.42" height="67.76" fill="#595959" stroke="#000" stroke-width="0.9"/><rect x="445.26" y="345.35" width="11.42" height="30.25" fill="#595959" stroke="#000" stroke-width="0.9"/><rect x="456.68" y="371.73" width="11.42" height="3.87" fill="#595959" stroke="#000" stroke-width="0.9"/><rect x="468.10" y="374.63" width="11.42" height="0.97" fill="#595959" stroke="#000" stroke-width="0.9"/><rect x="479.52" y="374.87" width="11.42" height="0.73" fill="#595959" stroke="#000" stroke-width="0.9"/><rect x="490.94" y="375.24" width="11.42" height="0.36" fill="#595959" stroke="#000" stroke-width="0.9"/><line x1="502.36" x2="513.78" y1="375.60" y2="375.60" stroke="#222" stroke-width="0.7"/><line x1="513.78" x2="525.20" y1="375.60" y2="375.60" stroke="#222" stroke-width="0.7"/><rect x="525.20" y="374.87" width="11.42" height="0.73" fill="#595959" stroke="#000" stroke-width="0.9"/><rect x="433.40" y="303.90" width="2.4" height="73.90" fill="#fbf700"/><text transform="translate(543.20,312.30) scale(0.9,1)" text-anchor="end" font-size="10.4" font-weight="bold" fill="#111">Me = 1.2</text><line x1="401.90" x2="405.40" y1="375.60" y2="375.60" stroke="#333" stroke-width="1"/><text transform="translate(400.40,379.50) scale(0.9,1)" text-anchor="end" font-size="10.5" fill="#4d4d4d">0</text><line x1="401.90" x2="405.40" y1="351.40" y2="351.40" stroke="#333" stroke-width="1"/><text transform="translate(400.40,355.30) scale(0.9,1)" text-anchor="end" font-size="10.5" fill="#4d4d4d">100</text><line x1="401.90" x2="405.40" y1="327.20" y2="327.20" stroke="#333" stroke-width="1"/><text transform="translate(400.40,331.10) scale(0.9,1)" text-anchor="end" font-size="10.5" fill="#4d4d4d">200</text><line y1="377.80" y2="381.10" x1="427.60" x2="427.60" stroke="#333" stroke-width="1"/><text transform="translate(427.60,392.80) scale(0.9,1)" text-anchor="middle" font-size="10.5" fill="#4d4d4d">1</text><line y1="377.80" y2="381.10" x1="460.90" x2="460.90" stroke="#333" stroke-width="1"/><text transform="translate(460.90,392.80) scale(0.9,1)" text-anchor="middle" font-size="10.5" fill="#4d4d4d">2</text><line y1="377.80" y2="381.10" x1="494.20" x2="494.20" stroke="#333" stroke-width="1"/><text transform="translate(494.20,392.80) scale(0.9,1)" text-anchor="middle" font-size="10.5" fill="#4d4d4d">3</text><line y1="377.80" y2="381.10" x1="527.50" x2="527.50" stroke="#333" stroke-width="1"/><text transform="translate(527.50,392.80) scale(0.9,1)" text-anchor="middle" font-size="10.5" fill="#4d4d4d">4</text><text x="472.30" y="406.30" text-anchor="middle" font-size="11.5" fill="#111" stroke="#111" stroke-width="0.15" textLength="91.6" lengthAdjust="spacingAndGlyphs">Activity duration [s]</text><text transform="translate(379.90,343.85) rotate(-90)" text-anchor="middle" font-size="10.9" fill="#111">Freq</text><text x="469.10" y="291.70" text-anchor="middle" font-size="11.6" fill="#111" stroke="#111" stroke-width="0.1" textLength="50.4" lengthAdjust="spacingAndGlyphs">Activity 9</text></g>
</svg></body></html>
